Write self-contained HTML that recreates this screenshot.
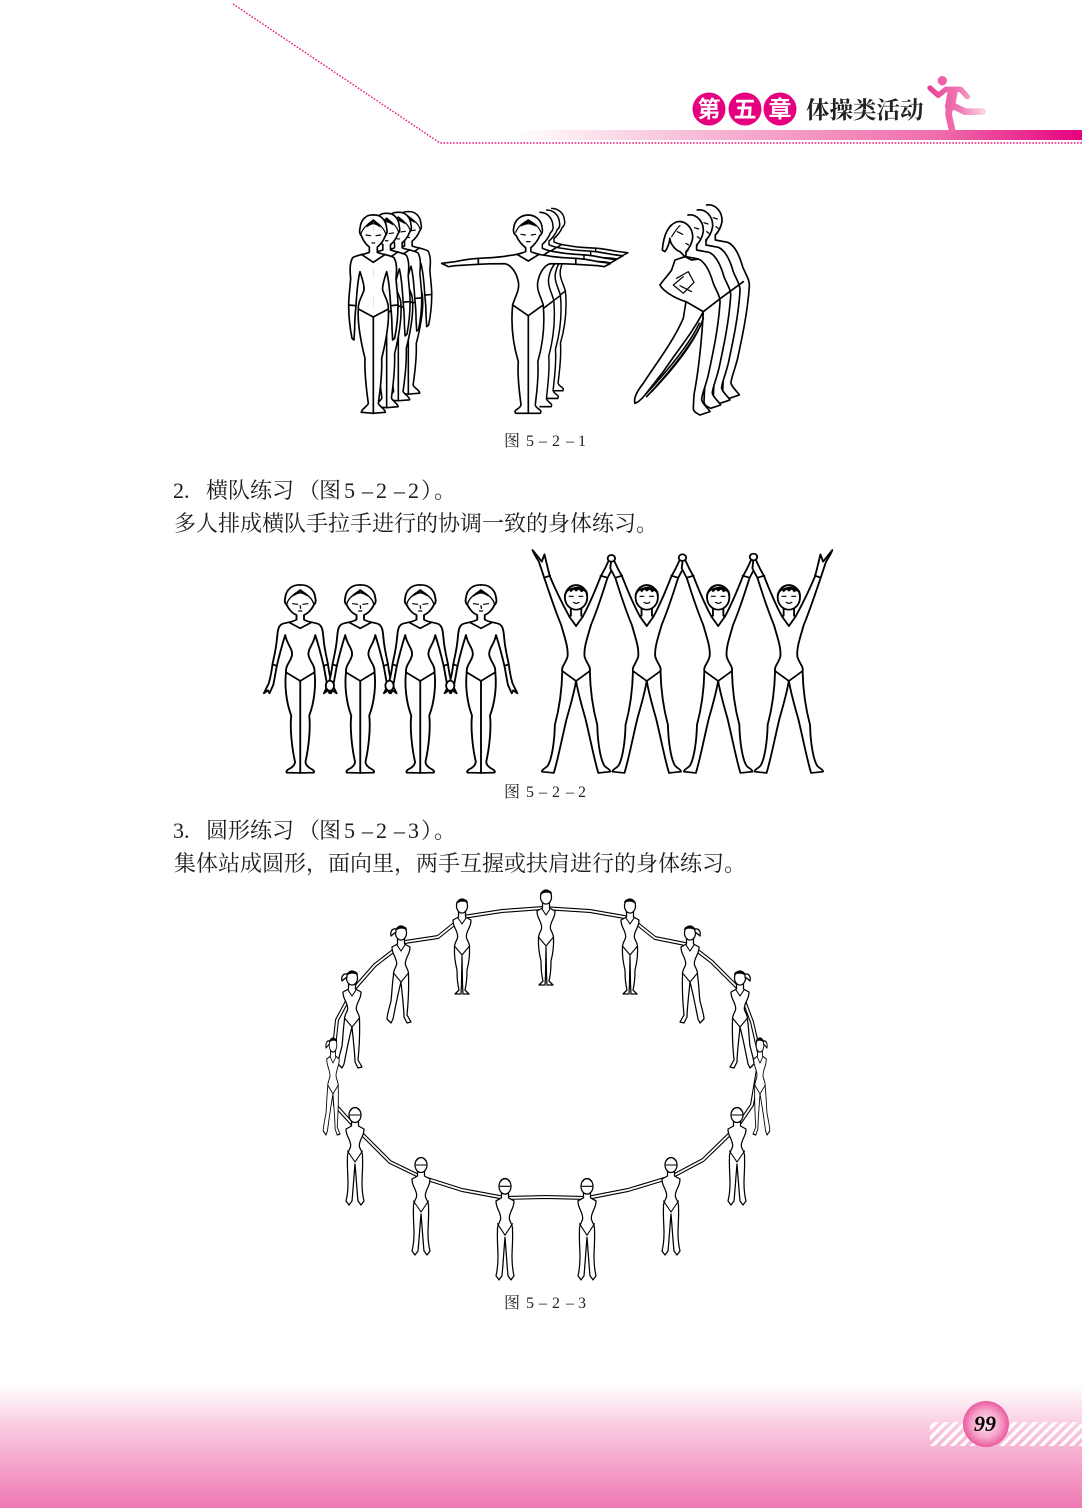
<!DOCTYPE html>
<html lang="zh"><head><meta charset="utf-8"><title>第五章 体操类活动</title>
<style>
html,body{margin:0;padding:0;background:#fff}
svg{display:block}
.t{font-family:"Liberation Serif","Noto Serif CJK SC",serif;font-size:22px;fill:#1c1c1c}
.c{font-family:"Liberation Serif","Noto Serif CJK SC",serif;font-size:16px;fill:#222}
.l{fill:#fff;stroke:#000;stroke-width:5;stroke-linejoin:round;stroke-linecap:round}
.n{fill:none;stroke:#000;stroke-width:5;stroke-linejoin:round;stroke-linecap:round}
.f{fill:none;stroke:#000;stroke-width:3.6;stroke-linejoin:round;stroke-linecap:round}
.s{fill:#fff;stroke:#000;stroke-width:1.25;stroke-linejoin:round;stroke-linecap:round}
.sn{fill:none;stroke:#000;stroke-width:1.1;stroke-linejoin:round;stroke-linecap:round}
</style></head>
<body>
<svg width="1082" height="1508" viewBox="0 0 1082 1508" xmlns="http://www.w3.org/2000/svg">
<defs>
<linearGradient id="bar" x1="515" x2="1082" y1="0" y2="0" gradientUnits="userSpaceOnUse"><stop offset="0" stop-color="#fff"/><stop offset=".35" stop-color="#f6b5d3"/><stop offset=".75" stop-color="#f06cab"/><stop offset="1" stop-color="#e6007f"/></linearGradient>
<linearGradient id="run" x1="800" x2="980" y1="0" y2="0" gradientUnits="userSpaceOnUse"><stop offset="0" stop-color="#ea3d95"/><stop offset=".55" stop-color="#ef79b4"/><stop offset="1" stop-color="#fbdcea"/></linearGradient>
<linearGradient id="foot" x1="0" x2="0" y1="0" y2="1"><stop offset="0" stop-color="#fff"/><stop offset=".35" stop-color="#f9c9df"/><stop offset="1" stop-color="#ef78b3"/></linearGradient>
<radialGradient id="ball" cx=".5" cy=".5" r=".5"><stop offset="0" stop-color="#fde3ee"/><stop offset=".6" stop-color="#f6a6cb"/><stop offset="1" stop-color="#e95a9f"/></radialGradient>
<pattern id="hatch" width="7" height="7" patternUnits="userSpaceOnUse" patternTransform="rotate(45)"><rect width="3.4" height="7" fill="#fff"/></pattern>

<!-- standing figure, half -->
<g id="aH">
<path class="l" d="M0 0C-22-2-38 15-40 38C-42 46-42 54-36 60C-30 74-20 86-10 90L-10 104C-20 112-40 112-50 118C-60 126-60 140-62 160C-64 190-70 215-74 238C-76 255-80 280-84 295L-97 325L-86 316L-82 325L-72 300C-68 280-66 262-62 240C-56 212-48 178-40 150C-36 178-20 190-22 210C-24 228-40 240-38 262C-42 300-38 350-24 392C-28 430-22 490-14 530C-14 540-22 548-30 552C-36 556-38 560-36 563L0 564"/>
<path class="n" d="M-38 262L0 288M-30 112L0 130M-74 238L-62 243"/>
<path class="f" d="M-36 58C-33 40-14 24 0 16"/>
<path d="M0 12C-8 18-16 26-22 36C-12 30-6 26 0 26Z"/>
<path class="f" d="M-20 56L-7 58"/>
</g>
<g id="a">
<use href="#aH"/><use href="#aH" transform="scale(-1 1)"/>
<path class="n" d="M0 288L0 564"/><path class="f" d="M-4 78L4 78M0 62L1 70"/>
</g>
<!-- column figure with arms close to the body -->
<g id="gH">
<path class="l" d="M0 0C-22-2-38 15-40 40C-42 48-42 56-36 62C-30 78-20 90-12 96L-12 112C-25 118-50 120-62 128C-72 145-70 170-68 190C-70 220-74 245-74 270C-74 300-70 340-64 370L-58 375L-56 340C-56 310-54 290-52 272C-50 240-48 200-40 170C-34 190-26 210-28 225C-34 245-46 260-45 282C-48 320-38 380-25 430C-27 480-20 530-15 565C-18 575-36 582-36 592L0 595"/>
<path class="n" d="M-45 282L0 306M-36 118L0 142M-74 270L-52 272"/>
<path class="f" d="M-38 60C-34 40-14 24 0 16M-22 60L-8 62"/>
<path d="M0 12C-8 18-16 26-22 38C-12 32-6 28 0 28Z"/>
</g>
<g id="g">
<use href="#gH"/><use href="#gH" transform="scale(-1 1)"/>
<path class="n" d="M0 306L0 595"/><path class="f" d="M-4 84L4 84"/>
</g>
<!-- raised arm figure -->
<g id="bO">
<path class="l" d="M-14 70L-14 92L-18 95C-35 60-55 15-70-25C-74-40-78-60-85-92L-92-70L-117-105C-112-90-105-80-100-70L-85-20C-70 30-55 80-40 120C-30 160-20 190-23 215C-28 235-40 245-37 258C-38 310-45 370-57 420C-58 470-65 520-75 540C-80 550-92 552-92 560L-60 564C-50 530-40 470-25 400C-12 350-5 320 0 288"/>
<path class="n" d="M-86-22L-70-28M-37 258L0 288M-18 95L0 123"/>
</g>
<g id="bI">
<path class="l" d="M-14 70L-14 92L-18 95C-35 60-52 15-66-25L-78-50L-94-88L-98-50L-84-20C-70 30-55 80-40 120C-30 160-20 190-23 215C-28 235-40 245-37 258C-38 310-45 370-57 420C-58 470-65 520-75 540C-80 550-92 552-92 560L-60 564C-50 530-40 470-25 400C-12 350-5 320 0 288"/>
<path class="n" d="M-84-22L-66-28M-37 258L0 288M-18 95L0 123"/>
</g>
<g id="bHead">
<ellipse class="l" cx="0" cy="37" rx="30" ry="37"/>
<path class="n" d="M-30 30C-26 18-20 8-8 2C6-2 20 6 28 20L30 30"/>
<path d="M-26 24C-22 12-10 6 4 5C14 6 22 12 28 24L20 18L14 22L8 14L0 20L-6 14L-14 22L-18 16Z"/>
<path class="f" d="M-18 34L-8 34M8 34L18 34M-7 52C-2 56 3 56 8 52"/>
</g>
<!-- T pose half -->
<g id="tH">
<path class="l" d="M0 0C-22 0-42 15-44 40C-46 50-42 58-36 62C-30 78-16 92-8 98L-8 110C-20 115-40 120-60 122C-90 128-120 128-150 130C-180 132-200 136-220 140L-260 145C-250 150-245 152-240 155L-220 152L-150 148C-120 146-95 146-70 146C-50 150-35 175-30 200C-25 225-40 245-47 270C-52 320-48 380-30 440C-34 490-25 540-22 570C-24 580-40 584-40 590L-38 595L0 595"/>
<path class="n" d="M-47 270L0 302M-34 118L0 138M-150 130L-150 148"/>
</g>
<g id="tHair">
<path class="f" d="M-38 52C-30 32-14 22 0 16M-22 58L-9 60"/>
<path d="M0 12C-10 18-18 26-24 36C-14 30-6 28 0 28Z"/>
</g>
<!-- twisted body -->
<g id="twB">
<path class="l" d="M1042 80C1068 76 1090 100 1088 130C1084 152 1074 164 1068 170L1068 185L1105 192C1125 200 1140 230 1150 265C1160 290 1172 305 1170 325C1165 400 1150 470 1135 540C1125 580 1115 600 1115 615C1120 630 1135 640 1140 650L1110 660C1100 655 1090 650 1090 640L1092 600C1105 530 1115 440 1120 350L1068 320L1040 300L1030 200L1042 185L1030 150"/>
<path class="f" d="M1070 145L1077 150M1062 118L1074 122"/>
</g>
<!-- small figures -->
<g id="sm">
<path class="s" d="M-3.5 14L-3.5 19L-9 22C-9 26-8 28-7 30C-5 34-4 38-4.5 40C-6 44-8 46-7.5 50C-8 60-6 68-5 72C-5 80-4 88-3 92L-7 96L-1 96L-.5 86L0 58L.5 86L1 96L7 96L3 92C4 88 5 80 5 72C6 68 8 60 7.5 50C8 46 6 44 4.5 40C4 38 5 34 7 30C8 28 9 26 9 22L3.5 19L3.5 14"/>
<path class="sn" d="M-7.5 48L0 57L7.5 48M-4 20L0 26L4 20"/>
<ellipse class="s" cx="0" cy="8" rx="5.5" ry="7"/>
<path d="M-6 6C-6 0 6-1 6 5C2 3-2 3-6 6Z"/>
</g>
<g id="sm2">
<path class="s" d="M-3.5 14L-3.5 19L-9 22C-9 26-8 28-7 30C-5 34-4 38-4.5 40C-6 44-8 46-7.5 50C-9 60-9 68-10 76C-12 84-14 90-14 94L-10 98L-8 94C-6 84-3 68 0 57C1 68 3 84 3 92L6 98L10 97L6 90C7 80 8 65 7.5 50C8 46 6 44 4.5 40C4 38 5 34 7 30C8 28 9 26 9 22L3.5 19L3.5 14"/>
<path class="sn" d="M-7.5 48L0 57L7.5 48M-4 20L0 26L4 20"/>
<ellipse class="s" cx="0" cy="8" rx="5.5" ry="7"/>
<path d="M-6 6C-6 0 6-1 6 5C2 3-2 3-6 6Z"/>
<path class="s" d="M-5 4C-9 3-11 7-10 11C-8 9-6 8-5 7Z"/>
</g>
<g id="sm3">
<path class="s" d="M-3.5 14L-3.5 19L-9 22C-9 26-8 28-7 30C-5 34-4 38-4.5 40C-6 44-8 46-7.5 50C-8 60-7 68-7 76C-7 84-8 90-9 94L-6 98L-3 94C-2 84-1 68 0 57C1 68 2 84 3 94L6 98L9 94C8 90 7 84 7 76C7 68 8 60 7.5 50C8 46 6 44 4.5 40C4 38 5 34 7 30C8 28 9 26 9 22L3.5 19L3.5 14"/>
<path class="sn" d="M-7.5 44L0 55L7.5 44"/>
<ellipse class="s" cx="0" cy="8" rx="6" ry="7.5"/>
<path class="sn" d="M-4 3C-2 0 2 0 4 3M-5 8L5 8"/>
</g>
</defs>

<rect width="1082" height="1508" fill="#fff"/>

<!-- header -->
<rect x="515" y="130" width="567" height="10" fill="url(#bar)"/>
<polyline points="233,4 440,143 1082,143" fill="none" stroke="#e4167f" stroke-width="1.4" stroke-dasharray="1.6 1.6"/>
<circle cx="709" cy="109" r="16.5" fill="#e6007f"/><circle cx="745" cy="109" r="16.5" fill="#e6007f"/><circle cx="780" cy="109" r="16.5" fill="#e6007f"/>
<g font-family="'Noto Sans CJK SC',sans-serif" font-weight="700" font-size="23" fill="#fff" text-anchor="middle"><text x="709" y="117">第</text><text x="745" y="117">五</text><text x="780" y="117">章</text></g>
<text x="806" y="118" font-family="'Noto Serif CJK SC',serif" font-weight="700" font-size="23.5" fill="#222">体操类活动</text>
<g transform="translate(660 60) scale(.3333)" fill="none" stroke="url(#run)" stroke-linecap="round" stroke-linejoin="round">
<circle cx="847" cy="62" r="14" fill="#ef5fa8" stroke="none"/>
<path stroke-width="16" d="M810 84L835 106L858 88L902 88L922 110"/>
<path stroke-width="30" d="M878 96L870 140"/>
<path stroke-width="20" d="M868 140L866 165L876 208"/>
<path stroke-width="20" d="M872 134L915 155L968 155"/>
</g>

<!-- figure 5-2-1 -->
<g transform="translate(330 195) scale(.3333)">
<g transform="translate(235 50) scale(.95 .92)"><use href="#g"/></g>
<g transform="translate(205 52) scale(.95 .95)"><use href="#g"/></g>
<g transform="translate(170 55) scale(.95 .98)"><use href="#g"/></g>
<g transform="translate(130 60)"><use href="#g"/></g>

<g transform="translate(665 40) scale(-.88 .92)"><use href="#tH"/></g>
<g transform="translate(650 45) scale(-.88 .95)"><use href="#tH"/></g>
<g transform="translate(630 52) scale(-.88 .98)"><use href="#tH"/></g>
<g transform="translate(595 60)"><use href="#tH"/><use href="#tH" transform="scale(-.95 1)"/><use href="#tHair"/><use href="#tHair" transform="scale(-1 1)"/><path class="n" d="M0 302L0 595"/><path class="f" d="M-5 80L5 80"/></g>

<use href="#twB" transform="translate(88 -50)"/>
<use href="#twB" transform="translate(60 -35)"/>
<use href="#twB" transform="translate(32 -20)"/>
<path class="l" d="M1042 80C1068 76 1090 100 1088 130C1084 152 1074 164 1068 170L1068 185L1105 192C1125 200 1140 230 1150 265C1160 290 1172 305 1170 325C1165 400 1150 470 1135 540C1125 580 1115 600 1115 615C1120 630 1135 640 1140 650L1110 660C1100 655 1090 650 1090 640L1092 600C1105 530 1115 440 1120 350C1090 410 1040 470 1000 530L945 600C935 612 925 622 915 625C910 610 920 590 940 565C975 510 1030 440 1060 370L1068 320C1050 315 1030 305 1015 295C1005 288 995 280 990 270C1000 255 1015 240 1025 225L1035 195L1065 185L1050 170C1035 165 1020 145 1020 130C1018 145 1012 160 1005 170L997 165C1000 130 1010 90 1042 80Z"/>
<path class="n" d="M1068 320L1120 350L1172 310L1240 260M1115 385C1090 440 1030 520 950 605M1108 385C1078 450 1010 530 945 600M1120 370C1100 430 1050 500 965 590M1065 185L1085 195L1105 192"/>
<path class="f" d="M1040 250L1075 230L1092 262L1060 295L1030 270L1060 245M1050 272L1085 290M1042 110L1058 118M1068 145L1076 150M1025 125C1035 110 1040 100 1050 92"/>
</g>

<text class="c" y="446"><tspan x="504">图</tspan><tspan x="526">5</tspan><tspan x="539">–</tspan><tspan x="552">2</tspan><tspan x="566">–</tspan><tspan x="578">1</tspan></text>

<!-- paragraph 2 -->
<text class="t" x="173" y="498">2.</text>
<text class="t" y="498"><tspan x="206">横队练习</tspan><tspan x="298">（</tspan><tspan x="319">图</tspan><tspan x="344">5</tspan><tspan x="362">–</tspan><tspan x="376">2</tspan><tspan x="394">–</tspan><tspan x="408">2</tspan><tspan x="421">）</tspan><tspan x="434">。</tspan></text>
<text class="t" x="174" y="531">多人排成横队手拉手进行的协调一致的身体练习。</text>

<!-- figure 5-2-2 -->
<g transform="translate(256 545) scale(.375 .3333)">
<g transform="translate(118 120)"><use href="#a"/></g>
<g transform="translate(278 120)"><use href="#a"/></g>
<g transform="translate(438 120)"><use href="#a"/></g>
<g transform="translate(600 120)"><use href="#a"/></g>
<ellipse class="l" cx="197" cy="422" rx="11" ry="15"/><ellipse class="l" cx="356" cy="422" rx="11" ry="15"/><ellipse class="l" cx="518" cy="422" rx="11" ry="15"/>
</g>
<g transform="translate(258 545) scale(.372 .3333)">
<g transform="translate(855 120)"><use href="#bO"/><use href="#bI" transform="scale(-1 1)"/><use href="#bHead"/></g>
<g transform="translate(1045 120)"><use href="#bI"/><use href="#bI" transform="scale(-1 1)"/><use href="#bHead"/></g>
<g transform="translate(1237 120)"><use href="#bI"/><use href="#bI" transform="scale(-1 1)"/><use href="#bHead"/></g>
<g transform="translate(1427 120)"><use href="#bI"/><use href="#bO" transform="scale(-1 1)"/><use href="#bHead"/></g>
<circle class="l" cx="950" cy="40" r="10"/><circle class="l" cx="1141" cy="38" r="10"/><circle class="l" cx="1332" cy="36" r="10"/>
</g>
<text class="c" y="797"><tspan x="504">图</tspan><tspan x="526">5</tspan><tspan x="539">–</tspan><tspan x="552">2</tspan><tspan x="566">–</tspan><tspan x="578">2</tspan></text>

<!-- paragraph 3 -->
<text class="t" x="173" y="838">3.</text>
<text class="t" y="838"><tspan x="206">圆形练习</tspan><tspan x="298">（</tspan><tspan x="319">图</tspan><tspan x="344">5</tspan><tspan x="362">–</tspan><tspan x="376">2</tspan><tspan x="394">–</tspan><tspan x="408">3</tspan><tspan x="421">）</tspan><tspan x="434">。</tspan></text>
<text class="t" x="174" y="871">集体站成圆形，面向里，两手互握或扶肩进行的身体练习。</text>

<!-- figure 5-2-3 -->
<g fill="none" stroke-linejoin="round" stroke-linecap="round">
<path stroke="#000" stroke-width="4" d="M543 908L502 911L463 917L438 937L405 942L375 965L353 990L337 1020L333 1057L335 1105L355 1127L390 1162L421 1177L462 1190L505 1198L546 1197L587 1198L628 1190L671 1177L703 1160L737 1127L752 1105L760 1057L752 1022L740 990L712 962L690 945L655 938L630 918L590 911Z"/>
<path stroke="#fff" stroke-width="1.8" d="M543 908L502 911L463 917L438 937L405 942L375 965L353 990L337 1020L333 1057L335 1105L355 1127L390 1162L421 1177L462 1190L505 1198L546 1197L587 1198L628 1190L671 1177L703 1160L737 1127L752 1105L760 1057L752 1022L740 990L712 962L690 945L655 938L630 918L590 911Z"/>
</g>
<use href="#sm" transform="translate(546 889)"/>
<use href="#sm" transform="translate(462 898)"/>
<use href="#sm" transform="translate(630 898) scale(-1 1)"/>
<use href="#sm2" transform="translate(401 925)"/>
<use href="#sm2" transform="translate(690 925) scale(-1 1)"/>
<use href="#sm2" transform="translate(352 970)"/>
<use href="#sm2" transform="translate(740 970) scale(-1 1)"/>
<use href="#sm2" transform="translate(333 1037) scale(.7 1)"/>
<use href="#sm2" transform="translate(760 1037) scale(-.7 1)"/>
<use href="#sm3" transform="translate(355 1107)"/>
<use href="#sm3" transform="translate(737 1107) scale(-1 1)"/>
<use href="#sm3" transform="translate(421 1157)"/>
<use href="#sm3" transform="translate(671 1157) scale(-1 1)"/>
<use href="#sm3" transform="translate(505 1178) scale(1 1.04)"/>
<use href="#sm3" transform="translate(587 1178) scale(-1 1.04)"/>
<text class="c" y="1308"><tspan x="504">图</tspan><tspan x="526">5</tspan><tspan x="539">–</tspan><tspan x="552">2</tspan><tspan x="566">–</tspan><tspan x="578">3</tspan></text>

<!-- footer -->
<rect x="0" y="1385" width="1082" height="123" fill="url(#foot)"/>
<rect x="930" y="1422" width="152" height="24" fill="url(#hatch)"/>
<circle cx="986" cy="1424" r="23" fill="url(#ball)"/>
<text x="985" y="1431" text-anchor="middle" font-family="Liberation Serif,serif" font-size="22" font-weight="700" font-style="italic" fill="#000">99</text>
</svg>
</body></html>
